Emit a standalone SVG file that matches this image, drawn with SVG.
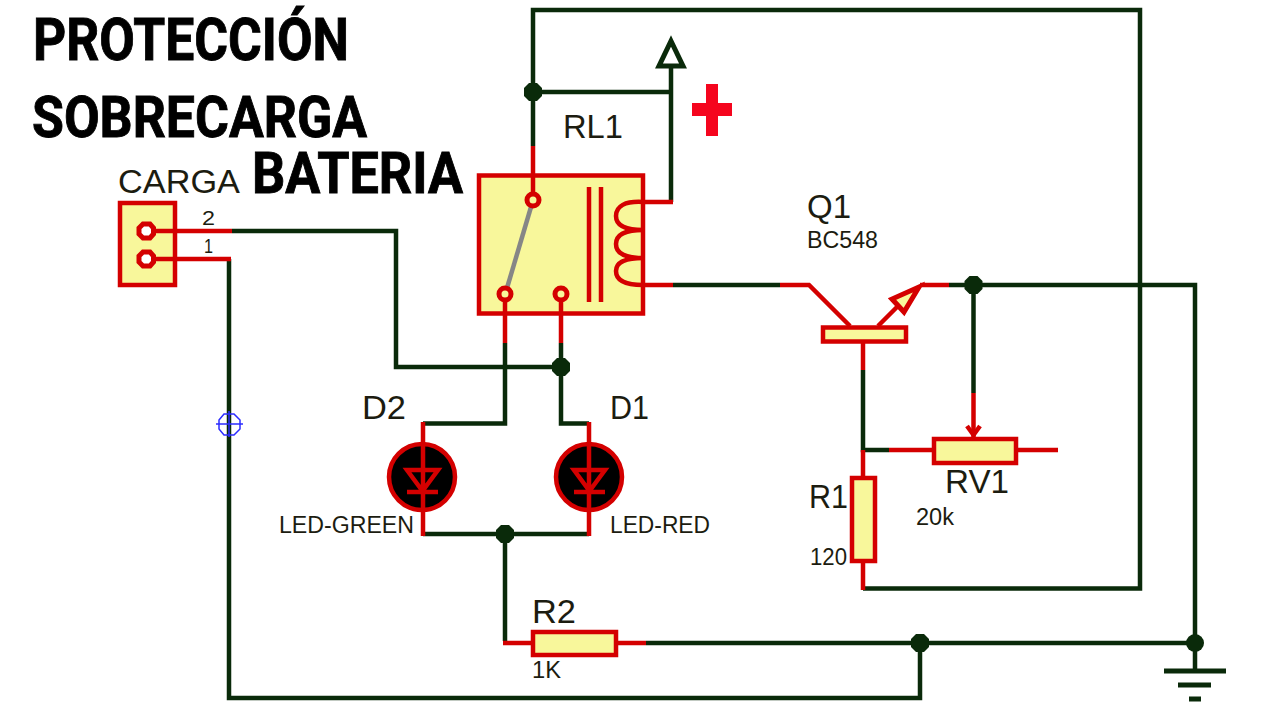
<svg xmlns="http://www.w3.org/2000/svg" width="1280" height="720" viewBox="0 0 1280 720">
<style>
.w{fill:none;stroke:#0a2a0a;stroke-width:4.500}
.r{fill:none;stroke:#d40000;stroke-width:4.500}
.b{fill:#f8f79b;stroke:#d40000;stroke-width:4.500}
.c{fill:#f8f79b;stroke:#d40000;stroke-width:5}
.p{fill:#fff;stroke:#d40000;stroke-width:5}
.j{fill:#0a2a0a}
.t{font-family:"Liberation Sans",Arial,sans-serif;fill:#1c1c10}
.l{font-size:33px}
.s{font-size:23px}
.h{font-family:Roboto,"Liberation Sans",sans-serif;font-weight:700;fill:#000;stroke:#000;stroke-width:.9}
</style>
<rect width="1280" height="720" fill="#fff"/>
<g id="connectors">
<path class="w" d="M533 146V10H1140V588.500H863"/>
<path class="w" d="M533 92H671M671 202V64"/>
<path class="w" d="M673 285H780M949 285H1195V671"/>
<path class="w" d="M973.500 285V393"/>
<path class="w" d="M863 370V450H889"/>
<path class="w" d="M232 231H396V367H561"/>
<path class="w" d="M229 259V698H920V643"/>
<path class="w" d="M505 343V423.500H423M561 343V423.500H589"/>
<path class="w" d="M423 534H589M505 534V641"/>
<path class="w" d="M646 643H1195"/>
<path class="j" d="M529 83H537L542 88V96L537 101H529L524 96V88Z"/>
<path class="j" d="M969.500 276H977.500L982.500 281V289L977.500 294H969.500L964.500 289V281Z"/>
<path class="j" d="M557 358H565L570 363V371L565 376H557L552 371V363Z"/>
<path class="j" d="M501 525H509L514 530V538L509 543H501L496 538V530Z"/>
<path class="j" d="M916 634H924L929 639V647L924 652H916L911 647V639Z"/>
<circle class="j" cx="1195" cy="643" r="9"/>
</g>
<g id="title" class="h">
<text x="33" y="60" font-size="60" textLength="316" lengthAdjust="spacingAndGlyphs">PROTECCIÓN</text>
<text x="32" y="137" font-size="58" textLength="335" lengthAdjust="spacingAndGlyphs">SOBRECARGA</text>
<text x="252" y="193" font-size="57" textLength="211" lengthAdjust="spacingAndGlyphs">BATERIA</text>
</g>
<g id="plus"><path fill="#f5051e" d="M706 84H718V103H732V116H718V136H706V116H692V103H706Z"/></g>
<g id="power">
<path fill="#fff" stroke="#0a2a0a" stroke-width="5" d="M671 41L683 66H659Z"/>
</g>
<g id="RL1">
<rect class="b" x="479" y="175.500" width="164" height="138"/>
<path class="r" d="M533 146V194M505 300V343M561 300V343M643 202H673M643 285H673"/>
<path d="M531 207L507 288" fill="none" stroke="#868686" stroke-width="4.500"/>
<circle class="c" cx="533" cy="200" r="6"/>
<circle class="c" cx="505" cy="294" r="6"/>
<circle class="c" cx="561" cy="294" r="6"/>
<path class="r" d="M589 187V302M601 187V302"/>
<path class="r" d="M643 202C625 201 616 206 616 216C616 226 625 230 643 230C625 230 616 234 616 244C616 253 625 258 643 258C625 258 616 262 616 271C616 281 625 285 643 285"/>
<text class="t l" x="563" y="138" textLength="60" lengthAdjust="spacingAndGlyphs">RL1</text>
</g>
<g id="Q1">
<path class="r" d="M780 285H809L850 326M878 326L900 304M920 285H949"/>
<path fill="#f8f79b" stroke="#d40000" stroke-width="5" d="M919 287L892 299L904 312Z"/>
<rect class="b" x="823" y="327.500" width="83" height="14"/>
<path class="r" d="M863 343V370"/>
<text class="t l" x="807" y="218" textLength="44" lengthAdjust="spacingAndGlyphs">Q1</text>
<text class="t s" x="807" y="248" textLength="71" lengthAdjust="spacingAndGlyphs">BC548</text>
</g>
<g id="RV1">
<path class="r" d="M889 450H934M1016 450H1058M973.500 393V437"/>
<path fill="none" stroke="#d40000" stroke-width="4.500" d="M967 426L973.500 435L980 426"/>
<rect class="b" x="934" y="439" width="82" height="24"/>
<text class="t l" x="945" y="493" textLength="64" lengthAdjust="spacingAndGlyphs">RV1</text>
<text class="t s" x="916" y="525" textLength="38" lengthAdjust="spacingAndGlyphs">20k</text>
</g>
<g id="R1">
<path class="r" d="M863 450V478M863 561V590"/>
<rect class="b" x="852" y="478" width="23" height="83"/>
<text class="t l" x="809" y="508" textLength="39" lengthAdjust="spacingAndGlyphs">R1</text>
<text class="t s" x="810" y="565" textLength="37" lengthAdjust="spacingAndGlyphs">120</text>
</g>
<g id="R2">
<path class="r" d="M503 643H533M616 643H646"/>
<rect class="b" x="533" y="632" width="83" height="23"/>
<text class="t l" x="532" y="623" textLength="44" lengthAdjust="spacingAndGlyphs">R2</text>
<text class="t s" x="532" y="678" textLength="29" lengthAdjust="spacingAndGlyphs">1K</text>
</g>
<g id="D2">
<circle cx="422" cy="477" r="33" fill="#000" stroke="#d40000" stroke-width="4.500"/>
<path class="r" d="M423 422V536M407 470H438L422.500 491ZM407 492H438"/>
<text class="t l" x="362" y="419" textLength="44" lengthAdjust="spacingAndGlyphs">D2</text>
<text class="t s" x="279" y="533" textLength="135" lengthAdjust="spacingAndGlyphs">LED-GREEN</text>
</g>
<g id="D1">
<circle cx="589" cy="477" r="33" fill="#000" stroke="#d40000" stroke-width="4.500"/>
<path class="r" d="M589 422V536M574 470H605L589.500 491ZM574 492H605"/>
<text class="t l" x="610" y="419" textLength="39" lengthAdjust="spacingAndGlyphs">D1</text>
<text class="t s" x="610" y="533" textLength="100" lengthAdjust="spacingAndGlyphs">LED-RED</text>
</g>
<g id="CARGA">
<rect class="b" x="120" y="203" width="55" height="82"/>
<path class="r" d="M153 231H232M153 259H231"/>
<path class="p" d="M143 224H150L153.500 228V234L150 238H143L139 234V228Z"/>
<path class="p" d="M143 252H150L153.500 256V262L150 266H143L139 262V256Z"/>
<text class="t l" x="118" y="193" textLength="122" lengthAdjust="spacingAndGlyphs">CARGA</text>
<text class="t" font-size="21" x="202" y="225" textLength="13" lengthAdjust="spacingAndGlyphs">2</text>
<text class="t" font-size="21" x="204" y="253" textLength="9" lengthAdjust="spacingAndGlyphs">1</text>
</g>
<g id="ground">
<path fill="none" stroke="#0a2a0a" stroke-width="5" d="M1164 671H1226M1178 685H1211M1189 699H1201"/>
</g>
<g id="probe">
<path fill="none" stroke="#2b2bff" stroke-width="1.500" d="M224 414H234L240 420V429L234 435H224L219 429V420ZM216 424H243M229 411V437"/>
</g>
</svg>
